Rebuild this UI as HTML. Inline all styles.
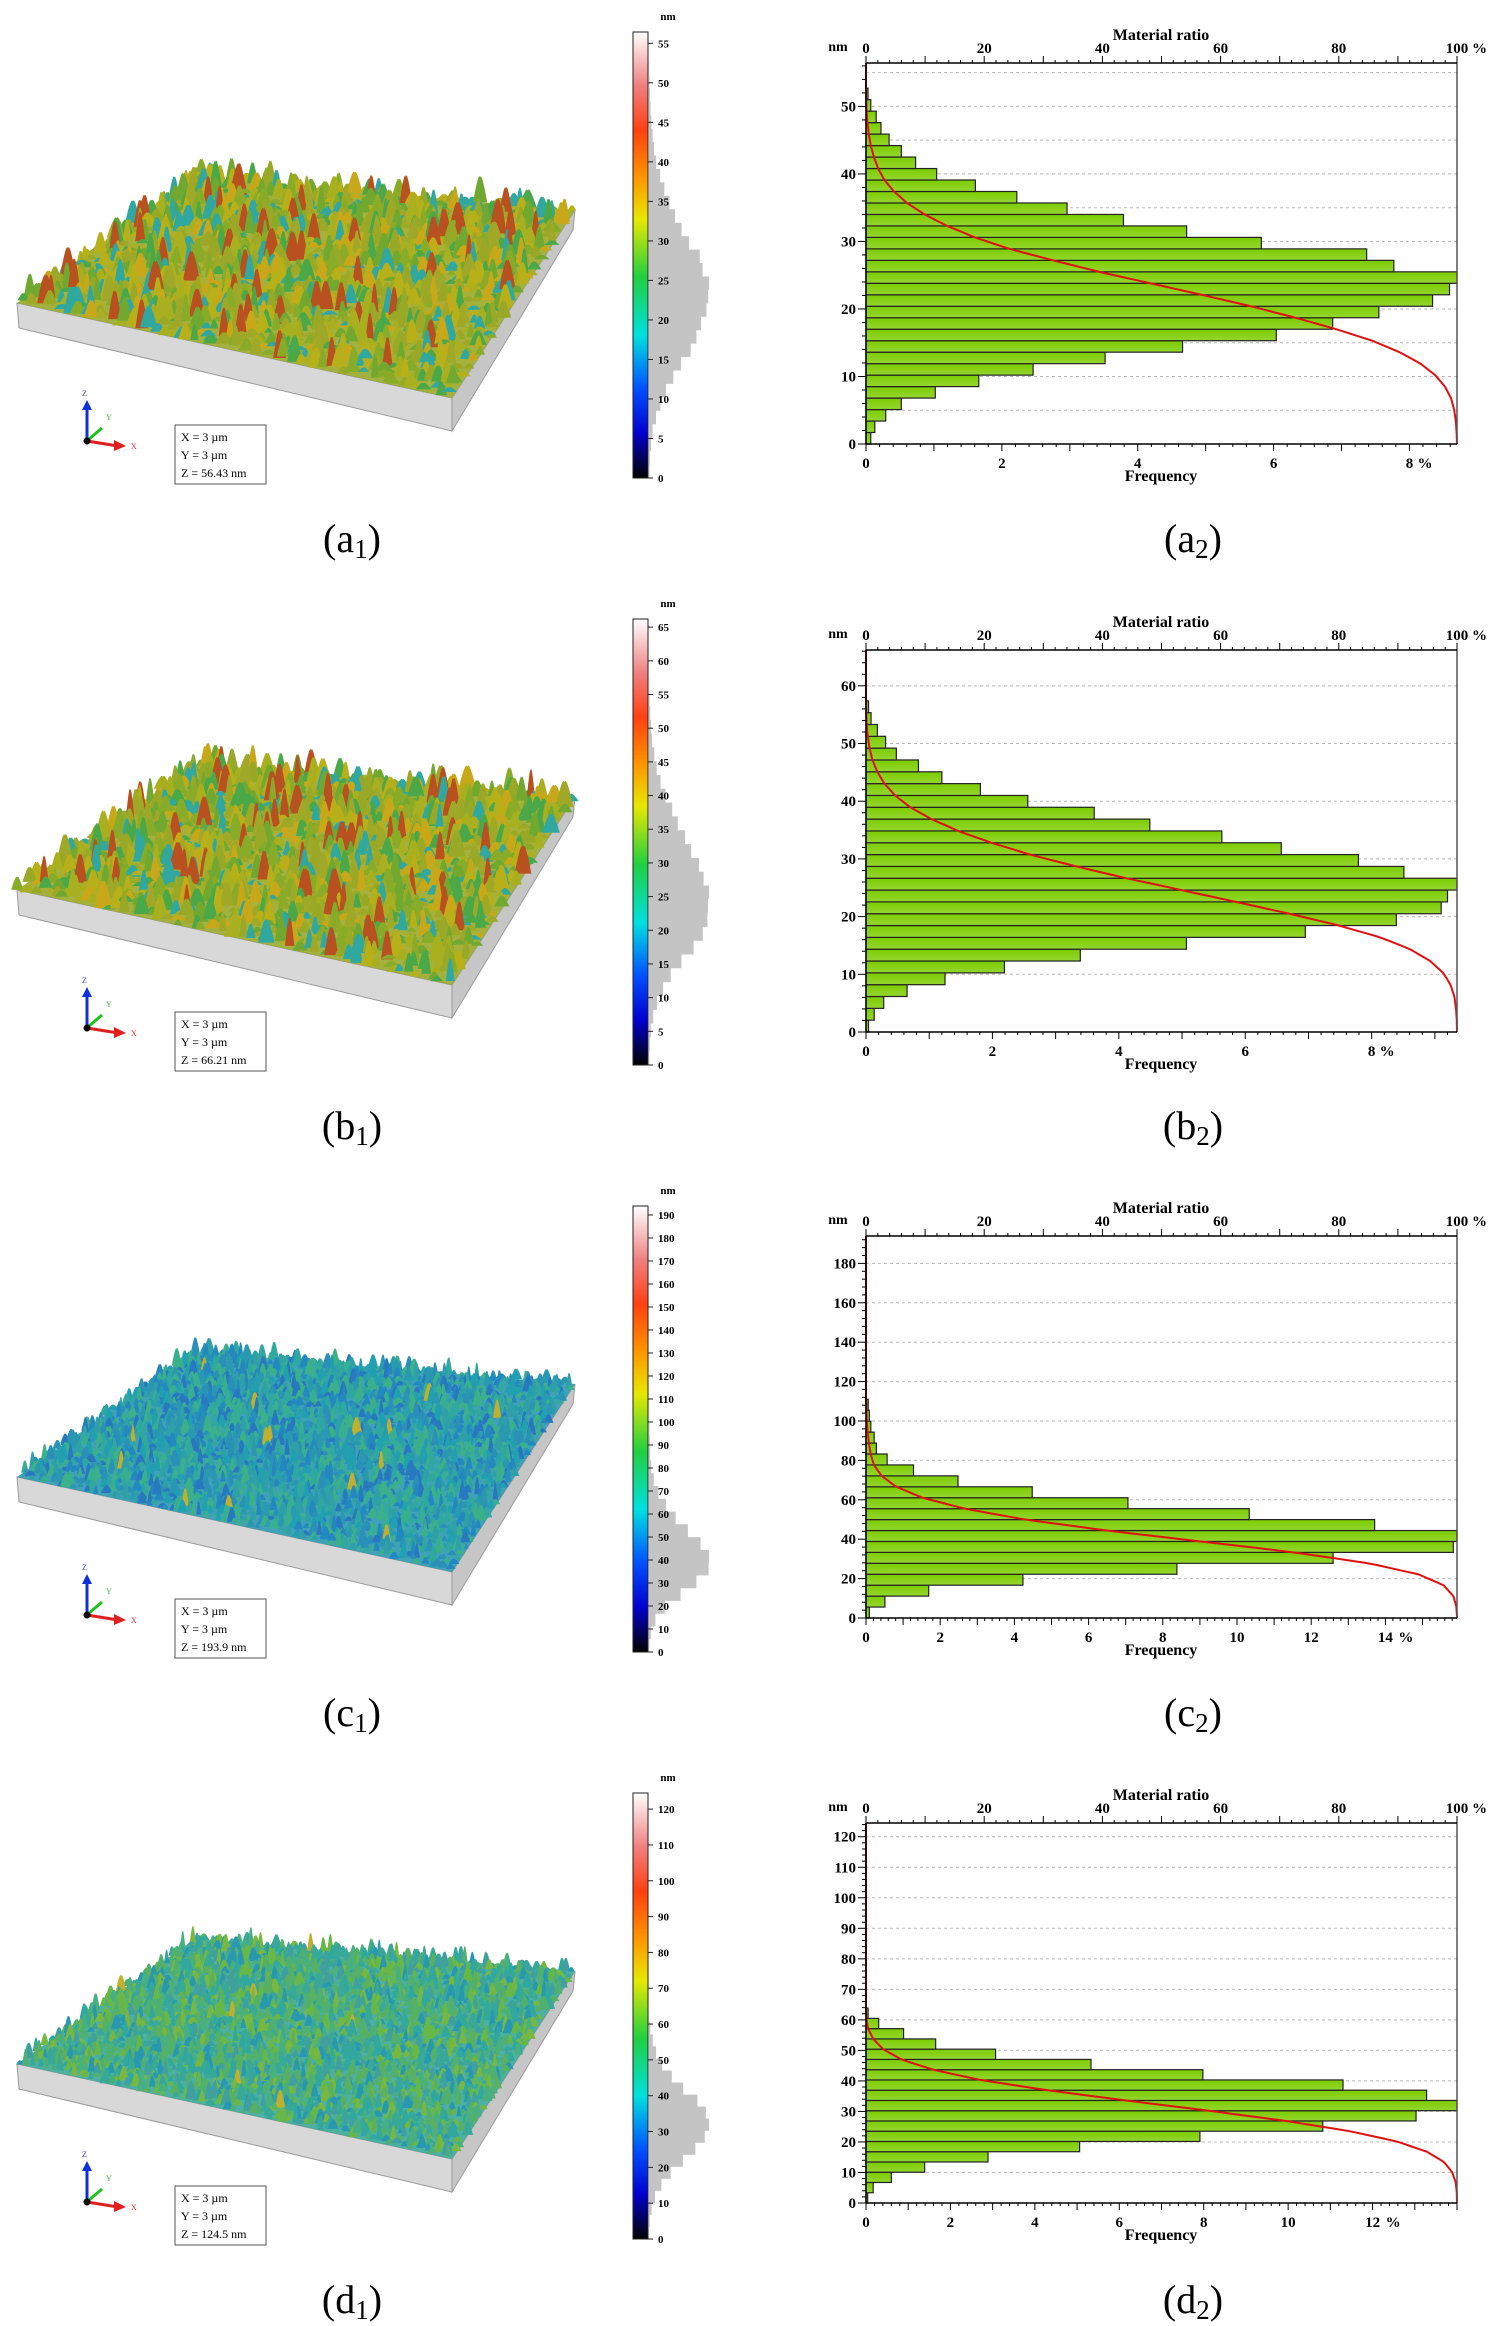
<!DOCTYPE html>
<html><head><meta charset="utf-8">
<style>
html,body{margin:0;padding:0;background:#fff;}
svg{display:block;}
text{font-family:"Liberation Serif",serif;}
</style></head>
<body>
<svg id="fig" width="1500" height="2326" viewBox="0 0 1500 2326" xmlns="http://www.w3.org/2000/svg">
<defs>
<linearGradient id="cbar" x1="0" y1="1" x2="0" y2="0">
<stop offset="0" stop-color="#000000"/><stop offset="0.1" stop-color="#0000d0"/><stop offset="0.2" stop-color="#0050ff"/>
<stop offset="0.32" stop-color="#00e0e0"/><stop offset="0.45" stop-color="#20d040"/><stop offset="0.58" stop-color="#e8e800"/>
<stop offset="0.68" stop-color="#ff9000"/><stop offset="0.78" stop-color="#ff4010"/><stop offset="0.88" stop-color="#f08080"/><stop offset="1" stop-color="#ffffff"/>
</linearGradient>
<linearGradient id="barfill" x1="0" y1="0" x2="0" y2="1">
<stop offset="0" stop-color="#7ccc00"/><stop offset="1" stop-color="#94d630"/>
</linearGradient>
</defs>
</svg>
<script>
// ---------- chart data (histograms of heights, frequency %) ----------
const panelLetters = ["a","b","c","d"];
const zRange = [56.43, 66.21, 193.9, 124.5];
const binWidths = [1.7, 2.05, 5.55, 3.36];
const freqMax = [8.70, 9.35, 15.93, 14.0];
const freqA = [0.07,0.13,0.29,0.52,1.02,1.66,2.46,3.52,4.66,6.04,6.87,7.55,8.34,8.59,8.70,7.77,7.37,5.82,4.72,3.79,2.96,2.22,1.61,1.04,0.73,0.52,0.34,0.22,0.15,0.07,0.03];
const freqB = [0.04,0.13,0.28,0.65,1.25,2.19,3.39,5.07,6.95,8.39,9.10,9.20,9.35,8.51,7.79,6.57,5.63,4.49,3.61,2.56,1.81,1.20,0.83,0.48,0.31,0.18,0.08,0.04];
const freqC = [0.09,0.51,1.69,4.23,8.38,12.59,15.83,15.93,13.71,10.33,7.06,4.48,2.48,1.28,0.57,0.28,0.22,0.13,0.09,0.06];
const freqD = [0.04,0.17,0.60,1.39,2.89,5.06,7.91,10.82,13.03,14.0,13.28,11.30,7.98,5.33,3.07,1.65,0.89,0.30,0.05];
const gridSteps = [5, 10, 20, 10];
const labelSteps = [10, 10, 20, 10];
const cbarSteps = [5, 5, 10, 10];
const freqLabels = [[0,2,4,6,8],[0,2,4,6,8],[0,2,4,6,8,10,12,14],[0,2,4,6,8,10,12]];
const ratioLabels = [0,20,40,60,80,100];
const zLabelText = ["56.43 nm","66.21 nm","193.9 nm","124.5 nm"];
const surfPalettes = [
 ["#9aa828","#a8b020","#b8b018","#70a830","#4aa848","#30a8a0","#a0a828","#88ac28","#c8a818"],
 ["#9aa828","#a8b020","#b8b018","#70a830","#4aa848","#30a8a0","#a0a828","#88ac28","#c8a818"],
 ["#2a98b0","#30a8a0","#2488c0","#38b090","#2a90b8","#20a0b0","#3cb088","#2878c0","#30a0a8"],
 ["#38a898","#50b070","#2898b0","#68b848","#30a8a0","#58b060","#40a0a0","#78b840","#48b080"]
];
const freqs = [freqA, freqB, freqC, freqD];

const NS = "http://www.w3.org/2000/svg";
const svg = document.getElementById("fig");
function el(tag, attrs, parent){ const e=document.createElementNS(NS,tag); for(const k in attrs) e.setAttribute(k,attrs[k]); (parent||svg).appendChild(e); return e; }
function txt(str, attrs, parent){ const e=el("text",attrs,parent); e.textContent=str; return e; }

const ROW = 587;
const X0 = 866, X1 = 1457;
const topY = [63, 650, 1236, 1823];
const zeroY = [444, 1032, 1618, 2203];

// deterministic generator for surface texture (decoration only)
let seedv = 12345;
function rnd(){ seedv = (seedv*1103515245 + 12345) % 2147483648; return seedv/2147483648; }

for (let p=0; p<4; p++){
  const dy = p*ROW;
  const data = freqs[p];
  const bin = binWidths[p];
  const zmax = zRange[p];

  // ================= LEFT: 3D surface =================
  const g1 = el("g",{});
  
  
  const FL={x:17,y:303+dy}, FR={x:452,y:398+dy}, BR={x:575,y:210+dy}, BL={x:195,y:178+dy};
  const slabF = el("polygon",{points:`${FL.x},${FL.y} ${FR.x},${FR.y} ${FR.x},${FR.y+33} ${FL.x+2},${FL.y+25}`,fill:"#d8d8d8",stroke:"#9a9a9a","stroke-width":1},g1);
  
  
  const slabR = el("polygon",{points:`${FR.x},${FR.y} ${BR.x},${BR.y} ${BR.x-2},${BR.y+20} ${FR.x},${FR.y+33}`,fill:"#c6c6c6",stroke:"#9a9a9a","stroke-width":1},g1);
  
  
  const pal = surfPalettes[p];
  el("polygon",{points:`${FL.x},${FL.y} ${BL.x},${BL.y} ${BR.x},${BR.y} ${FR.x},${FR.y}`,fill:pal[0],opacity:0.9},g1);
  function bil(u,v){
    const ax=FL.x+(FR.x-FL.x)*u, ay=FL.y+(FR.y-FL.y)*u;
    const bx=BL.x+(BR.x-BL.x)*u, by=BL.y+(BR.y-BL.y)*u;
    return {x:ax+(bx-ax)*v, y:ay+(by-ay)*v};
  }
  const M=(p<2)?55:75, N=(p<2)?28:38;
  const hs = (p<2)?24:13;
  for(let j=N-1;j>=0;j--){
    for(let i=0;i<M;i++){
      const u=(i+rnd())/M, v=(j+rnd())/N;
      const q=bil(u,v);
      const r=rnd();
      const h=4+r*r*hs;
      const w=(p<2?4:2.5)+rnd()*(p<2?5:3.5);
      let col=pal[Math.floor(rnd()*pal.length)];
      if(p<2 && r>0.96) col="#b85020";
      if(p>=2 && r>0.995) col="#c0b030";
      el("path",{d:`M${(q.x-w).toFixed(1)},${q.y.toFixed(1)} Q${(q.x-w*0.2).toFixed(1)},${(q.y-h*1.3).toFixed(1)} ${q.x.toFixed(1)},${(q.y-h).toFixed(1)} Q${(q.x+w*0.2).toFixed(1)},${(q.y-h*1.3).toFixed(1)} ${(q.x+w).toFixed(1)},${q.y.toFixed(1)}Z`,fill:col},g1);
    }
  }
  // axis triad
  const tri = el("g",{},g1);
  
  
  el("line",{x1:87,y1:441+dy,x2:87,y2:408+dy,stroke:"#1030e0","stroke-width":3},tri);
  el("polygon",{points:`82,${410+dy} 92,${410+dy} 87,${400+dy}`,fill:"#1030e0"},tri);
  el("line",{x1:87,y1:441+dy,x2:118,y2:446+dy,stroke:"#e02020","stroke-width":3},tri);
  el("polygon",{points:`114,${440+dy} 126,${446+dy} 114,${451+dy}`,fill:"#e02020"},tri);
  el("line",{x1:88,y1:440+dy,x2:102,y2:428+dy,stroke:"#20c020","stroke-width":3},tri);
  el("circle",{cx:87,cy:441+dy,r:3.5,fill:"#000"},tri);
  txt("Z",{x:82,y:396+dy,"font-size":8,fill:"#3040c0","font-family":"Liberation Sans, sans-serif"},tri);
  txt("Y",{x:106,y:420+dy,"font-size":8,fill:"#40b040","font-family":"Liberation Sans, sans-serif"},tri);
  txt("X",{x:131,y:449+dy,"font-size":8,fill:"#d03030","font-family":"Liberation Sans, sans-serif"},tri);
  // dimension box
  const box = el("g",{},g1);
  
  
  el("rect",{x:175,y:425+dy,width:91,height:59,fill:"#fff",stroke:"#555","stroke-width":1},box);
  txt("X = 3 µm",{x:181,y:441+dy,"font-size":12},box);
  txt("Y = 3 µm",{x:181,y:459+dy,"font-size":12},box);
  txt("Z = "+zLabelText[p],{x:181,y:477+dy,"font-size":12},box);

  // colour bar
  const cb = el("g",{});
  
  
  const cbTop=32+dy, cbBot=478+dy;
  let hp=`649,${cbBot}`;
  const fmax=Math.max(...data);
  for(let k=0;k<data.length;k++){
    const yb=cbBot-(k*bin)/zmax*(cbBot-cbTop), yt=cbBot-((k+1)*bin)/zmax*(cbBot-cbTop);
    const xv=649+data[k]/fmax*60;
    hp+=` ${xv.toFixed(1)},${yb.toFixed(1)} ${xv.toFixed(1)},${yt.toFixed(1)}`;
  }
  hp+=` 649,${(cbBot-data.length*bin/zmax*(cbBot-cbTop)).toFixed(1)}`;
  el("polygon",{points:hp,fill:"#c4c4c4"},cb);
  el("rect",{x:633,y:cbTop,width:15,height:cbBot-cbTop,fill:"url(#cbar)",stroke:"#222","stroke-width":1},cb);
  txt("nm",{x:668,y:20+dy,"font-size":11,"font-weight":"bold","text-anchor":"middle"},cb);
  for(let v=0; v<=zmax; v+=cbarSteps[p]){
    const y=cbBot-v/zmax*(cbBot-cbTop);
    el("line",{x1:648,x2:653,y1:y,y2:y,stroke:"#222","stroke-width":1},cb);
    txt(String(v),{x:658,y:y+4,"font-size":11,"font-weight":"bold"},cb);
  }

  // caption left
  const c1 = txt("",{x:352,y:552+dy,"font-size":40,"text-anchor":"middle","font-family":"Liberation Serif, serif"});
  
  
  c1.innerHTML = `(${panelLetters[p]}<tspan font-size="27" dy="6">1</tspan><tspan dy="-6">)</tspan>`;

  // ================= RIGHT: histogram chart =================
  const g2 = el("g",{});
  
  
  const yT=topY[p], yZ=zeroY[p];
  const ys = v => yZ - v/zmax*(yZ-yT);
  const xs = f => X0 + f/freqMax[p]*(X1-X0);
  const xr = r => X0 + r/100*(X1-X0);
  el("rect",{x:X0,y:yT,width:X1-X0,height:yZ-yT,fill:"#fff"},g2);
  for(let v=gridSteps[p]; v<zmax; v+=gridSteps[p]){
    const gl = el("line",{x1:X0,x2:X1,y1:ys(v),y2:ys(v),stroke:"#b8b8b8","stroke-width":1,"stroke-dasharray":"3,3"},g2);
    
    
  }
  for(let k=0;k<data.length;k++){
    const b = el("rect",{x:X0,y:ys((k+1)*bin),width:xs(data[k])-X0,height:ys(k*bin)-ys((k+1)*bin),fill:"url(#barfill)",stroke:"#222","stroke-width":1.2},g2);
    
    
  }
  const total = data.reduce((a,b)=>a+b,0);
  const nb=data.length;
  const above=new Array(nb+1).fill(0);
  for(let k=nb-1;k>=0;k--) above[k]=above[k+1]+data[k];
  let d="";
  const steps=200;
  for(let s=0;s<=steps;s++){
    const h = zmax - s/steps*zmax;
    const kf = h/bin;
    let frac;
    if(kf>=nb) frac=0;
    else { const k=Math.floor(kf); const part=(k+1)-kf; frac=(above[k+1]+data[k]*part)/total; }
    d += (s?"L":"M")+xr(frac*100).toFixed(1)+","+ys(h).toFixed(1);
  }
  const curve = el("path",{d:d,fill:"none",stroke:"#e01010","stroke-width":2},g2);
  
  
  el("line",{x1:X1,x2:X1,y1:yT,y2:yZ,stroke:"#555","stroke-width":1.5},g2);
  const yAx = el("line",{x1:X0,x2:X0,y1:yT,y2:yZ,stroke:"#000","stroke-width":1.5},g2);
  
  
  const tAx = el("line",{x1:X0,x2:X1,y1:yT,y2:yT,stroke:"#000","stroke-width":1.5},g2);
  
  
  const bAx = el("line",{x1:X0,x2:X1,y1:yZ,y2:yZ,stroke:"#000","stroke-width":1.5},g2);
  
  
  const minorY = labelSteps[p]/5;
  for(let v=0; v<=zmax+0.01; v+=minorY){
    const isMaj = Math.abs(v/labelSteps[p]-Math.round(v/labelSteps[p]))<1e-6;
    el("line",{x1:X0-(isMaj?8:4),x2:X0,y1:ys(v),y2:ys(v),stroke:"#000","stroke-width":1},g2);
    if(isMaj){
      const t=txt(String(Math.round(v)),{x:X0-10,y:ys(v)+5,"font-size":15,"font-weight":"bold","text-anchor":"end"},g2);
      
      
    }
  }
  txt("nm",{x:838,y:yT-12,"font-size":14,"font-weight":"bold","text-anchor":"middle"},g2);
  for(let r=0;r<=100;r+=2){
    const maj = r%10===0;
    el("line",{x1:xr(r),x2:xr(r),y1:yT,y2:yT-(maj?7:3),stroke:"#000","stroke-width":1},g2);
  }
  for(const r of ratioLabels){
    const t=txt(String(r),{x:xr(r),y:yT-10,"font-size":15,"font-weight":"bold","text-anchor":"middle"},g2);
    
    
  }
  txt("%",{x:xr(100)+15,y:yT-10,"font-size":15,"font-weight":"bold"},g2);
  const mt = txt("Material ratio",{x:1161,y:yT-23,"font-size":16,"font-weight":"bold","text-anchor":"middle"},g2);
  
  
  for(let f=0; f<=freqMax[p]+1e-6; f+=0.2){
    const maj = Math.abs(f-Math.round(f))<1e-6;
    el("line",{x1:xs(f),x2:xs(f),y1:yZ,y2:yZ+(maj?7:3),stroke:"#000","stroke-width":1},g2);
  }
  const fl = freqLabels[p];
  for(const f of fl){
    const t=txt(String(f),{x:xs(f),y:yZ+24,"font-size":15,"font-weight":"bold","text-anchor":"middle"},g2);
    
    
  }
  txt("%",{x:xs(fl[fl.length-1])+(fl[fl.length-1]>=10?13:8),y:yZ+24,"font-size":15,"font-weight":"bold"},g2);
  const ft = txt("Frequency",{x:1161,y:yZ+37,"font-size":16,"font-weight":"bold","text-anchor":"middle"},g2);
  
  

  const c2 = txt("",{x:1193,y:552+dy,"font-size":40,"text-anchor":"middle","font-family":"Liberation Serif, serif"});
  
  
  c2.innerHTML = `(${panelLetters[p]}<tspan font-size="27" dy="6">2</tspan><tspan dy="-6">)</tspan>`;
}
</script>
</body></html>
